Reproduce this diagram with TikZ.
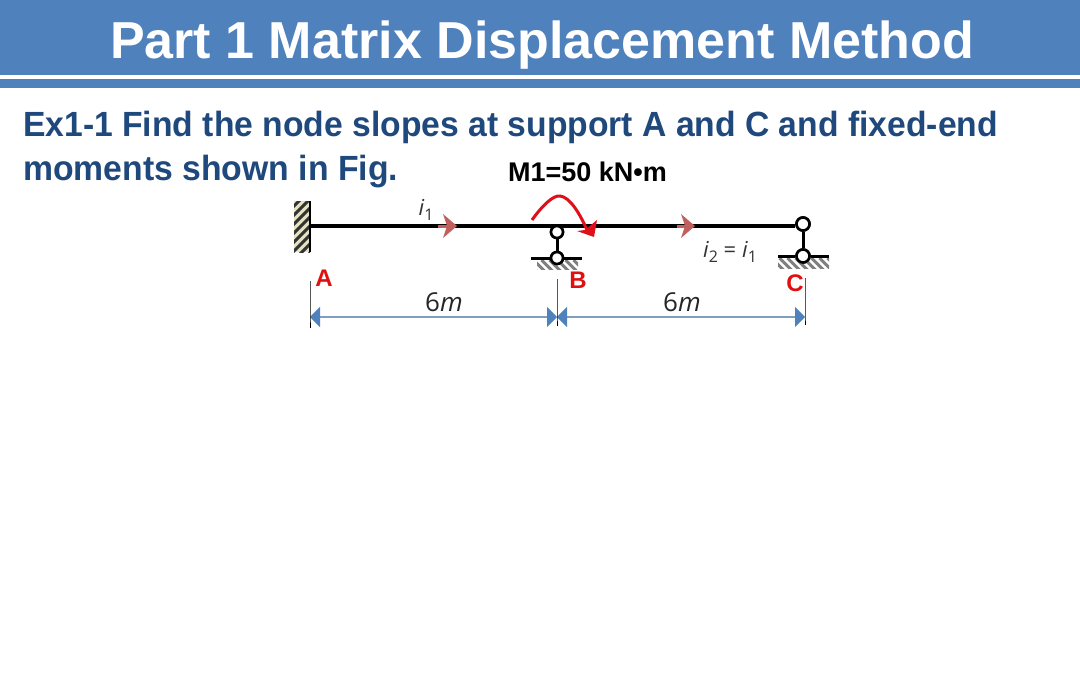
\documentclass[tikz,border=0pt]{standalone}
\usepackage{fontspec}
\setmainfont{Liberation Sans}
\newfontfamily\dimfont{Open Sans}
\usetikzlibrary{arrows.meta}
\definecolor{barblue}{HTML}{4F81BD}
\definecolor{headblue}{HTML}{1F497D}
\definecolor{dimblue}{HTML}{7F9FC0}
\definecolor{tipblue}{HTML}{4F81BD}
\definecolor{loadred}{HTML}{C0605C}
\definecolor{momred}{HTML}{E0101A}
\definecolor{labelred}{HTML}{E01010}
\definecolor{wallbg}{HTML}{E4E2C0}
\newcommand{\hatchlines}[4]{%
  \begin{scope}
    \clip (#1,#2) rectangle (#3,#4);
    \foreach \k in {-80,-72,...,80}{\draw[hatchline] ({(#1+#3)/2+\k},#2) -- ++(12,12);}
  \end{scope}}
\tikzset{
  x=1pt,y=-1pt,
  beam/.style={line width=3.2pt,black},
  ground/.style={line width=3pt,black},
  pin/.style={circle,draw=black,line width=2.6pt,fill=white,inner sep=0pt,minimum size=12pt},
  hatchline/.style={line width=3pt,black!50},
  wallhatch/.style={line width=3pt,black!80},
  tick/.style={line width=0.9pt,black},
  dim/.style={line width=1.1pt,dimblue,{Triangle[length=10pt,width=20pt,color=tipblue]}-{Triangle[length=10pt,width=20pt,color=tipblue]}},
  loadtip/.style={line width=0pt,draw=none,fill=loadred},
  moment/.style={line width=3pt,momred},
  ptlabel/.style={text=labelred,font=\bfseries\fontsize{24}{26}\selectfont,inner sep=0pt},
  dimlabel/.style={font=\dimfont\fontsize{26}{28}\selectfont,text=black!85,inner sep=0pt},
  stifflabel/.style={font=\dimfont\fontsize{22}{24}\selectfont,text=black!80,inner sep=0pt},
  bodytext/.style={text=headblue,font=\bfseries\fontsize{35}{43}\selectfont,inner sep=0pt,anchor=base west},
}
\begin{document}
\begin{tikzpicture}
\useasboundingbox (0,0) rectangle (1080,689);
\fill[white] (0,0) rectangle (1080,689);
\fill[barblue] (0,0) rectangle (1080,75);
\fill[barblue] (0,79) rectangle (1080,88);
\node[text=white,font=\bfseries\fontsize{52}{56}\selectfont,inner sep=0pt] (title) at (542,45) {Part 1 Matrix Displacement Method};
\node[bodytext] (l1) at (23,136) {\scalebox{0.962}[1]{Ex1-1 Find the node slopes at support A and C and fixed-end}};
\node[bodytext] (l2) at (23,180) {\scalebox{0.964}[1]{moments shown in Fig.}};
\node[text=black,font=\bfseries\fontsize{27}{30}\selectfont,inner sep=0pt] (m1) at (587.5,172) {M1=50 kN\textbullet m};
% wall
\fill[wallbg] (294,201) rectangle (310,252);
\begin{scope}
  \clip (294,201) rectangle (310,252);
  \foreach \k in {190,199,...,280}{\draw[wallhatch] (292,\k) -- ++(20,-20);}
\end{scope}
\draw[line width=1.5pt,black] (310,201) -- (310,252);
% named points
\coordinate (A) at (310,226);
\node[pin] (Bt) at (557,232) {};
\node[pin] (Bb) at (557,258) {};
\node[pin,minimum size=13pt] (Ct) at (803,224) {};
\node[pin,minimum size=13pt] (Cb) at (803,256) {};
\coordinate (Bg1) at (531,258); \coordinate (Bg2) at (582,258);
\coordinate (Cg1) at (778,256); \coordinate (Cg2) at (829,256);
% hatches
\hatchlines{537}{260}{578}{269}
\hatchlines{778}{258}{829}{268}
% connectors
\draw[beam] (A) -- (A -| Ct.west);
\draw[ground] (Bt) -- (Bb);
\draw[ground] (Ct) -- (Cb);
\draw[ground] (Bg1) -- (Bb.west) (Bb.east) -- (Bg2);
\draw[ground] (Cg1) -- (Cb.west) (Cb.east) -- (Cg2);
\node[pin] at (Bt) {};
\node[pin] at (Bb) {};
\node[pin,minimum size=13pt] at (Ct) {};
\node[pin,minimum size=13pt] at (Cb) {};
% load arrows
\draw[line width=3pt,loadred] (438,226) -- (450,226);
\fill[loadtip] (443,214) -- (457,226) -- (443,238) -- (447,226) -- cycle;
\draw[line width=3pt,loadred] (677,226) -- (688,226);
\fill[loadtip] (681,214) -- (695,226) -- (681,238) -- (685,226) -- cycle;
% moment
\coordinate (Ms) at (532,220);
\coordinate (Me) at (587,230);
\draw[moment] (Ms) .. controls (542,206) and (553,195) .. (560,196) .. controls (570,197) and (580,214) .. (Me);
\fill[momred] (597,220) -- (594,237) -- (577,231) -- (585,230) -- cycle;
% dimensions
\coordinate (da) at (310,317); \coordinate (db) at (557,317); \coordinate (dc) at (805,317);
\draw[dim] (da) -- (db);
\draw[dim] (db) -- (dc);
\draw[tick] (310,281) -- (da) -- (310,328);
\draw[tick] (557,279) -- (db) -- (557,326);
\draw[tick] (805,278) -- (dc) -- (805,325);
% labels
\node[ptlabel] (la) at (324,278) {A};
\node[ptlabel] (lb) at (578,280) {B};
\node[ptlabel] (lc) at (795,283) {C};
\node[dimlabel] (d1) at (444,302) {6\textit{m}};
\node[dimlabel] (d2) at (682,302) {6\textit{m}};
\node[stifflabel,anchor=base] (s1) at (426,215) {\textit{i}\raisebox{-5pt}{\fontsize{16}{16}\selectfont 1}};
\node[stifflabel,anchor=base] (s2) at (730,257) {\textit{i}\raisebox{-5pt}{\fontsize{16}{16}\selectfont 2} = \textit{i}\raisebox{-5pt}{\fontsize{16}{16}\selectfont 1}};
\end{tikzpicture}
\end{document}
